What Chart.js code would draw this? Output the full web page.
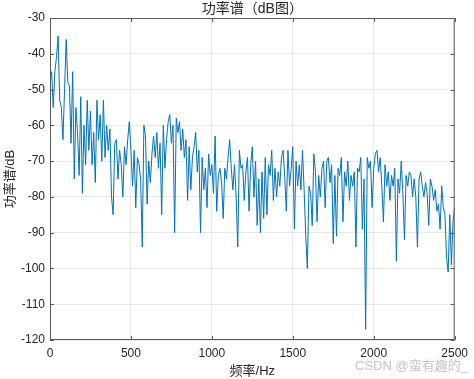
<!DOCTYPE html>
<html>
<head>
<meta charset="utf-8">
<script src="https://cdn.jsdelivr.net/npm/chart.js@4/dist/chart.umd.min.js"></script>
<style>
  body { margin: 0; background: #fff; }
  #chart { display: block; }
</style>
</head>
<body>
<canvas id="chart" width="474" height="379"></canvas>
<script>
// frequency step of the spectrum (Hz) and the power values (dB)
const freqStep = 10;
const powerDb = [
  -48, -45, -55, -45, -41, -35, -53, -55, -64, -50,
  -36, -48, -49, -65, -45, -75, -55, -62, -74, -52,
  -79, -60, -71, -53, -67, -56, -71, -62, -76, -53,
  -64, -57, -70, -53, -69, -60, -67, -61, -80, -85,
  -65, -64, -75, -67, -71, -80, -66, -71, -64, -59,
  -67, -77, -67, -83, -69, -71, -75, -94, -60, -63,
  -82,
  -70, -76, -68, -63, -69, -62, -72, -65, -85, -60,
  -72, -64, -59, -57, -65, -60, -90, -58, -62, -59,
  -67, -61, -69, -64, -81, -66, -78, -69, -66, -62,
  -73, -67, -90, -69, -78, -72, -83, -68, -74, -71,
  -79, -63, -84, -74, -72, -76, -86, -72, -75, -69,
  -64, -72, -78, -71, -80, -94, -67, -72, -71, -81,
  -73, -69, -84,
  -71, -66, -80, -70, -88, -75, -90, -73, -86, -69,
  -85, -71, -74, -67, -81, -72, -80, -73, -77, -69,
  -67, -74, -84, -67, -77, -72, -66, -89, -70, -77,
  -71, -78, -67, -78, -91, -100, -77, -79, -88, -68,
  -73, -87, -74, -80, -72, -70, -83, -70, -69, -76,
  -71, -93, -74, -91, -72, -74, -69, -87, -73, -77,
  -70, -81, -74,
  -77, -73, -94, -72, -73, -69, -89, -75, -117, -69,
  -72, -70, -83, -72, -68, -67, -73, -69, -77, -87,
  -71, -77, -73, -81, -74, -77, -72, -98, -75, -79,
  -70, -79, -92, -74, -77, -73, -74, -80, -75, -80,
  -94, -75, -73, -77, -80, -76, -79, -88, -75, -77,
  -81, -78, -84, -82, -89, -77, -83, -85, -97, -101,
  -85, -99, -87, -83
];

const xTicks = [0, 500, 1000, 1500, 2000, 2500];
const yTicks = [-120, -110, -100, -90, -80, -70, -60, -50, -40, -30];

const titleText = '功率谱（dB图）';
const xTitle = '频率/Hz';
const yTitle = '功率谱/dB';
const watermark = 'CSDN @蛮有趣的_';

const points = powerDb.map((v, i) => ({ x: i * freqStep, y: v }));

const fontFamily = '"Liberation Sans", Arial, "Noto Sans CJK SC", sans-serif';

// box around the axes, title, axis labels and watermark, drawn like the MATLAB figure
const decorPlugin = {
  id: 'decor',
  afterDraw(chart) {
    const ctx = chart.ctx;
    const a = chart.chartArea;
    ctx.save();
    ctx.strokeStyle = '#5a5a5a';
    ctx.lineWidth = 1;
    ctx.strokeRect(a.left + 0.5, a.top + 0.5, a.right - a.left - 1, a.bottom - a.top - 1);

    // inward tick marks
    const xs = chart.scales.x, ys = chart.scales.y;
    ctx.beginPath();
    xTicks.forEach(t => {
      const px = Math.round(xs.getPixelForValue(t)) + 0.5;
      ctx.moveTo(px, a.bottom); ctx.lineTo(px, a.bottom - 4);
      ctx.moveTo(px, a.top); ctx.lineTo(px, a.top + 4);
    });
    yTicks.forEach(t => {
      const py = Math.round(ys.getPixelForValue(t)) + 0.5;
      ctx.moveTo(a.left, py); ctx.lineTo(a.left + 4, py);
      ctx.moveTo(a.right, py); ctx.lineTo(a.right - 4, py);
    });
    ctx.stroke();

    const cx = (a.left + a.right) / 2;
    ctx.fillStyle = '#262626';
    ctx.textAlign = 'center';
    ctx.textBaseline = 'middle';
    ctx.font = '14px ' + fontFamily;
    ctx.fillText(titleText, cx, 9);

    ctx.font = '13px ' + fontFamily;
    ctx.fillText(xTitle, cx, 371);

    ctx.save();
    ctx.translate(10, (a.top + a.bottom) / 2);
    ctx.rotate(-Math.PI / 2);
    ctx.fillText(yTitle, 0, 0);
    ctx.restore();

    ctx.fillStyle = '#c4c4c4';
    ctx.textAlign = 'left';
    ctx.font = '13px ' + fontFamily;
    ctx.fillText(watermark, 355, 366);
    ctx.restore();
  }
};

new Chart(document.getElementById('chart'), {
  type: 'line',
  data: {
    datasets: [{
      data: points,
      borderColor: '#0072BD',
      borderWidth: 1,
      pointRadius: 0,
      tension: 0,
      fill: false
    }]
  },
  options: {
    responsive: false,
    animation: false,
    events: [],
    layout: { padding: { left: 0, top: 18, right: 14, bottom: 0 } },
    plugins: {
      legend: { display: false },
      tooltip: { enabled: false },
      title: { display: false }
    },
    scales: {
      x: {
        type: 'linear',
        min: 0,
        max: 2500,
        afterBuildTicks: s => { s.ticks = xTicks.map(v => ({ value: v })); },
        afterFit: s => { s.height = 39; },
        grid: { color: '#e8e8e8', drawTicks: false },
        border: { display: false },
        ticks: {
          color: '#262626', padding: 6, maxRotation: 0,
          font: { size: 12, family: fontFamily },
          callback: v => String(v)
        }
      },
      y: {
        min: -120,
        max: -30,
        afterBuildTicks: s => { s.ticks = yTicks.map(v => ({ value: v })); },
        afterFit: s => { s.width = 50; },
        grid: { color: '#e8e8e8', drawTicks: false },
        border: { display: false },
        ticks: {
          color: '#262626', padding: 5,
          font: { size: 12, family: fontFamily },
          callback: v => String(v)
        }
      }
    }
  },
  plugins: [decorPlugin]
});
</script>
</body>
</html>
